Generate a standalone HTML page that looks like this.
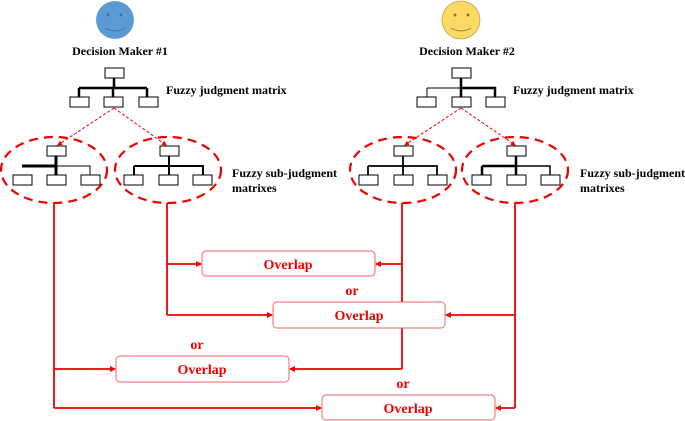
<!DOCTYPE html>
<html><head><style>body{margin:0;background:#fff}svg{display:block}</style></head><body>
<svg width="685" height="421" viewBox="0 0 685 421" xmlns="http://www.w3.org/2000/svg" font-family="Liberation Serif, serif" font-weight="bold">
<defs><marker id="a" markerWidth="6" markerHeight="6" refX="5" refY="3" orient="auto" markerUnits="userSpaceOnUse"><path d="M0,0 L6,3 L0,6 z" fill="#e00"/></marker>
<marker id="s" markerWidth="5" markerHeight="5" refX="4" refY="2.5" orient="auto" markerUnits="userSpaceOnUse"><path d="M0,0 L5,2.5 L0,5 z" fill="#e00"/></marker></defs>
<circle cx="115" cy="20" r="19" fill="#5b9bd5"/><circle cx="108" cy="15" r="1.5" fill="#41719c"/><circle cx="121" cy="15" r="1.5" fill="#41719c"/><path d="M105,28 Q115,34 125,28" stroke="#41719c" fill="none"/>
<circle cx="461" cy="20" r="19" fill="#ffd966" stroke="#bfa14a" stroke-width="0.8"/><circle cx="455" cy="15" r="1.5" fill="#8a7a3a"/><circle cx="468" cy="15" r="1.5" fill="#8a7a3a"/><path d="M451,28 Q461,34 471,28" stroke="#8a7a3a" fill="none"/>
<g font-size="12" fill="#000">
<text x="120" y="55" text-anchor="middle">Decision Maker #1</text>
<text x="467" y="55" text-anchor="middle">Decision Maker #2</text>
<text x="166" y="94">Fuzzy judgment matrix</text>
<text x="513" y="94">Fuzzy judgment matrix</text>
<text x="232" y="177">Fuzzy sub-judgment</text><text x="232" y="192">matrixes</text>
<text x="580" y="177">Fuzzy sub-judgment</text><text x="580" y="192">matrixes</text>
</g>
<g stroke="#000" fill="#fff" stroke-width="1">
<path d="M114,78V88M79,88H147M79,88V97M113,88V97M147,88V97" stroke-width="2.5" fill="none"/>
<rect x="105" y="68" width="19" height="10"/><rect x="70" y="97" width="19" height="10"/><rect x="104" y="97" width="19" height="10"/><rect x="139" y="97" width="19" height="10"/>
<path d="M427,88H461M427,88V97" fill="none"/>
<path d="M461,78V88M461,88H495V97M461,88V97" stroke-width="2.5" fill="none"/>
<rect x="452" y="68" width="19" height="10"/><rect x="417" y="97" width="19" height="10"/><rect x="452" y="97" width="19" height="10"/><rect x="486" y="97" width="19" height="10"/>
<path d="M56,156V166M22,166H56V175" stroke-width="3" fill="none"/><path d="M56,166H90V175" fill="none"/>
<rect x="47" y="146" width="19" height="10"/><rect x="13" y="175" width="19" height="10"/><rect x="47" y="175" width="19" height="10"/><rect x="81" y="175" width="19" height="10"/>
<path d="M169,156V175M134,166H203V175M134,166V175" stroke-width="2" fill="none"/>
<rect x="160" y="146" width="19" height="10"/><rect x="124" y="175" width="19" height="10"/><rect x="159" y="175" width="19" height="10"/><rect x="193" y="175" width="19" height="10"/>
<path d="M403,156V175M368,166H437V175M368,166V175" stroke-width="1.8" fill="none"/>
<rect x="394" y="146" width="19" height="10"/><rect x="359" y="175" width="19" height="10"/><rect x="394" y="175" width="19" height="10"/><rect x="428" y="175" width="19" height="10"/>
<path d="M516,156V175M482,166H516V175M482,166V175" stroke-width="2.5" fill="none"/><path d="M516,166H550V175" stroke-width="1.5" fill="none"/>
<rect x="507" y="146" width="19" height="10"/><rect x="472" y="175" width="19" height="10"/><rect x="507" y="175" width="19" height="10"/><rect x="541" y="175" width="19" height="10"/>
</g>
<g stroke="#e00" stroke-width="1" stroke-dasharray="3,2" fill="none">
<path d="M114,108L58,145" marker-end="url(#s)"/><path d="M114,108L166,145" marker-end="url(#s)"/>
<path d="M461,108L405,145" marker-end="url(#s)"/><path d="M461,108L515,145" marker-end="url(#s)"/>
</g>
<g stroke="#e00" stroke-width="2.2" stroke-dasharray="9,6" fill="none">
<ellipse cx="54" cy="170" rx="53" ry="33"/><ellipse cx="168" cy="170" rx="53" ry="33"/>
<ellipse cx="403" cy="170" rx="53" ry="33"/><ellipse cx="515" cy="170" rx="53" ry="33"/>
</g>
<g stroke="#e00" stroke-width="1.8" fill="none">
<path d="M54,203V408M167,203V315M402,203V369M515,203V408"/>
<path d="M167,264H201" marker-end="url(#a)"/><path d="M402,264H376" marker-end="url(#a)"/>
<path d="M167,315H272" marker-end="url(#a)"/><path d="M515,315H446" marker-end="url(#a)"/>
<path d="M54,369H115" marker-end="url(#a)"/><path d="M402,369H290" marker-end="url(#a)"/>
<path d="M54,408H321" marker-end="url(#a)"/><path d="M515,408H496" marker-end="url(#a)"/>
</g>
<g stroke="#e66" stroke-width="1" fill="#fff">
<rect x="202" y="251" width="173" height="25" rx="4"/><rect x="273" y="302" width="172" height="26" rx="4"/>
<rect x="116" y="356" width="173" height="26" rx="4"/><rect x="322" y="395" width="173" height="25" rx="4"/>
</g>
<g fill="#e00" font-size="14" text-anchor="middle">
<text x="288" y="269">Overlap</text><text x="359" y="320">Overlap</text>
<text x="202" y="374">Overlap</text><text x="408" y="413">Overlap</text>
<text x="352" y="295">or</text><text x="197" y="349">or</text><text x="403" y="388">or</text>
</g>
</svg>
</body></html>
